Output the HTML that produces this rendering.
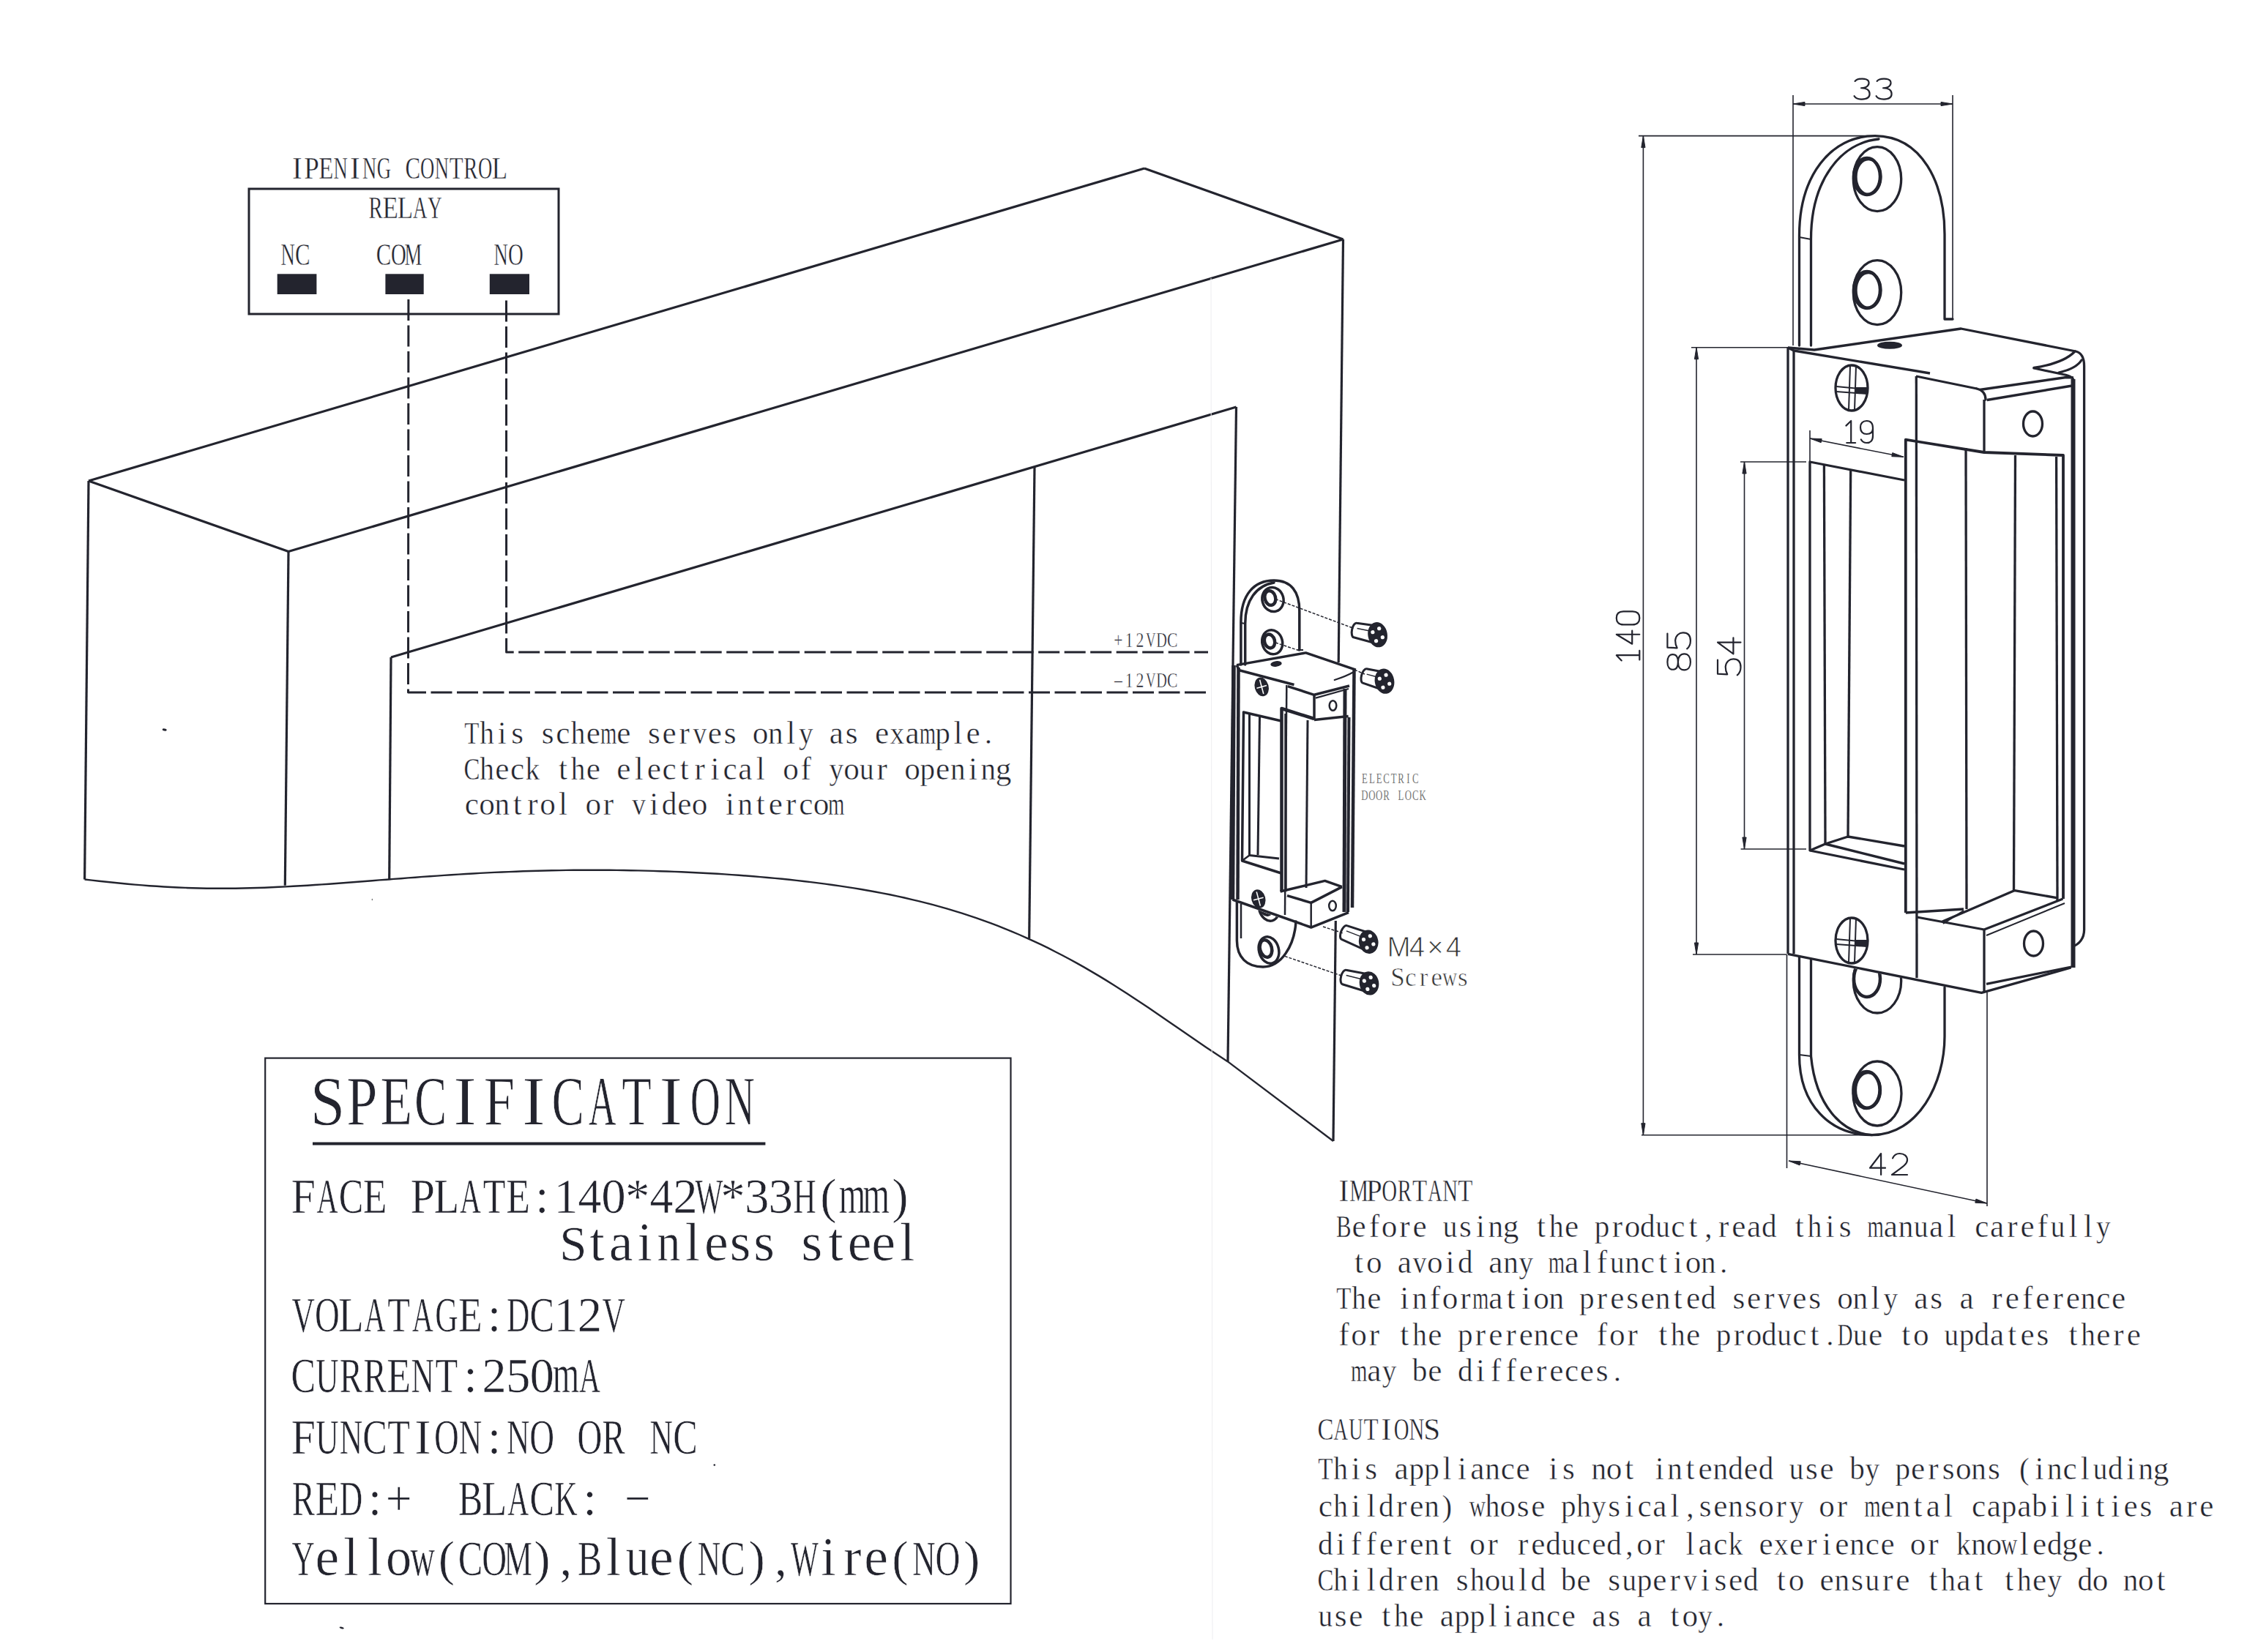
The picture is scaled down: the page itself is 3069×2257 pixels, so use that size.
<!DOCTYPE html>
<html><head><meta charset="utf-8"><title>Electric door lock</title>
<style>
html,body{margin:0;padding:0;background:#fff;}
body{width:3069px;height:2257px;overflow:hidden;font-family:"Liberation Sans",sans-serif;}
svg{display:block;}
</style></head><body>
<svg width="3069" height="2257" viewBox="0 0 3069 2257" stroke-linecap="butt">
<rect width="3069" height="2257" fill="#fff"/>
<line x1="121" y1="657" x2="1563" y2="230" stroke="#23242e" stroke-width="3.2"/>
<line x1="1563" y1="230" x2="1834.5" y2="327" stroke="#23242e" stroke-width="3.2"/>
<line x1="121" y1="657" x2="394" y2="753.5" stroke="#23242e" stroke-width="3.2"/>
<line x1="394" y1="753.5" x2="1834.5" y2="327" stroke="#23242e" stroke-width="3.2"/>
<line x1="121" y1="657" x2="115.6" y2="1201.4" stroke="#23242e" stroke-width="3.2"/>
<line x1="394" y1="753.5" x2="389.3" y2="1209.8" stroke="#23242e" stroke-width="3.2"/>
<line x1="534" y1="898" x2="1688.5" y2="556" stroke="#23242e" stroke-width="3.2"/>
<line x1="534" y1="898" x2="531.7" y2="1202.3" stroke="#23242e" stroke-width="3.2"/>
<line x1="1688.5" y1="556" x2="1677" y2="1450.4" stroke="#23242e" stroke-width="3.2"/>
<line x1="1834.5" y1="327" x2="1828.2" y2="905" stroke="#23242e" stroke-width="3.2"/>
<line x1="1824.3" y1="1258" x2="1821" y2="1559" stroke="#23242e" stroke-width="3.2"/>
<line x1="1413" y1="638" x2="1405.7" y2="1282" stroke="#23242e" stroke-width="3.2"/>
<polyline points="115.6,1201.5 125.4,1202.6 135.2,1203.7 145.1,1204.8 154.9,1205.8 164.7,1206.8 174.5,1207.7 184.3,1208.6 194.2,1209.4 204,1210.2 213.8,1210.8 223.6,1211.5 233.4,1212 243.3,1212.5 253.1,1212.9 262.9,1213.2 272.7,1213.5 282.5,1213.7 292.4,1213.8 302.2,1213.8 312,1213.8 321.8,1213.7 331.6,1213.5 341.5,1213.3 351.3,1213 361.1,1212.7 370.9,1212.3 380.7,1211.8 390.6,1211.4 400.4,1210.8 410.2,1210.3 420,1209.7 429.8,1209 439.7,1208.4 449.5,1207.7 459.3,1207 469.1,1206.2 478.9,1205.5 488.8,1204.7 498.6,1204 508.4,1203.2 518.2,1202.4 528,1201.7 537.9,1200.9 547.7,1200.2 557.5,1199.4 567.3,1198.7 577.1,1197.9 587,1197.2 596.8,1196.6 606.6,1195.9 616.4,1195.2 626.2,1194.6 636.1,1194 645.9,1193.5 655.7,1192.9 665.5,1192.4 675.3,1191.9 685.2,1191.5 695,1191.1 704.8,1190.7 714.6,1190.3 724.4,1190 734.3,1189.7 744.1,1189.5 753.9,1189.3 763.7,1189.1 773.5,1188.9 783.4,1188.8 793.2,1188.7 803,1188.7 812.8,1188.7 822.6,1188.7 832.5,1188.8 842.3,1188.9 852.1,1189 861.9,1189.2 871.7,1189.4 881.6,1189.6 891.4,1189.9 901.2,1190.2 911,1190.5 920.9,1190.9 930.7,1191.3 940.5,1191.7 950.3,1192.2 960.1,1192.7 970,1193.3 979.8,1193.8 989.6,1194.4 999.4,1195.1 1009.2,1195.8 1019.1,1196.5 1028.9,1197.3 1038.7,1198.1 1048.5,1199 1058.3,1199.9 1068.2,1200.8 1078,1201.8 1087.8,1202.9 1097.6,1204 1107.4,1205.1 1117.3,1206.4 1127.1,1207.6 1136.9,1209 1146.7,1210.4 1156.5,1211.9 1166.4,1213.4 1176.2,1215 1186,1216.7 1195.8,1218.5 1205.6,1220.4 1215.5,1222.3 1225.3,1224.4 1235.1,1226.5 1244.9,1228.8 1254.7,1231.1 1264.6,1233.6 1274.4,1236.2 1284.2,1238.8 1294,1241.6 1303.8,1244.6 1313.7,1247.6 1323.5,1250.8 1333.3,1254.1 1343.1,1257.6 1352.9,1261.2 1362.8,1264.9 1372.6,1268.8 1382.4,1272.8 1392.2,1277 1402,1281.3 1411.9,1285.8 1421.7,1290.4 1431.5,1295.2 1441.3,1300.2 1451.1,1305.2 1461,1310.5 1470.8,1315.9 1480.6,1321.4 1490.4,1327.1 1500.2,1332.9 1510.1,1338.9 1519.9,1345 1529.7,1351.2 1539.5,1357.5 1549.3,1363.9 1559.2,1370.4 1569,1377 1578.8,1383.7 1588.6,1390.4 1598.4,1397.2 1608.3,1404 1618.1,1410.8 1627.9,1417.6 1637.7,1424.3 1647.5,1431 1657.4,1437.6 1667.2,1444.1 1677,1450.5" fill="none" stroke="#23242e" stroke-width="2.4" stroke-linejoin="round"/>
<line x1="1677" y1="1450.4" x2="1821" y2="1559" stroke="#23242e" stroke-width="2.4"/>
<line x1="1654" y1="380" x2="1656" y2="2240" stroke="#ededf0" stroke-width="1.0"/>
<ellipse cx="224.7" cy="997" rx="3" ry="1.6" fill="#23242e" stroke="#23242e" stroke-width="0" transform="rotate(10 224.7 997)"/>
<ellipse cx="466.7" cy="2224" rx="3.2" ry="1.2" fill="#23242e" stroke="#23242e" stroke-width="0" transform="rotate(15 466.7 2224)"/>
<ellipse cx="975.8" cy="2001.5" rx="1.3" ry="1.3" fill="#23242e" stroke="#23242e" stroke-width="0"/>
<ellipse cx="508.4" cy="1229" rx="0.8" ry="1.2" fill="#777" stroke="#23242e" stroke-width="0"/>
<rect x="340" y="258" width="423" height="171" fill="none" stroke="#23242e" stroke-width="3"/>
<rect x="378.7" y="374.3" width="53.7" height="27.7" fill="#23242e" stroke="#23242e" stroke-width="0"/>
<rect x="526.4" y="374.3" width="52.3" height="27.7" fill="#23242e" stroke="#23242e" stroke-width="0"/>
<rect x="668.8" y="374.3" width="54.2" height="27.7" fill="#23242e" stroke="#23242e" stroke-width="0"/>
<polyline points="557.9,409 557.5,946 1651,946" fill="none" stroke="#23242e" stroke-width="3" stroke-linejoin="round" stroke-dasharray="29 6.5"/>
<polyline points="691.5,410.6 691.6,891 1650,891" fill="none" stroke="#23242e" stroke-width="3" stroke-linejoin="round" stroke-dasharray="29 6.5"/>
<path d="M1694.9,908 L1694.9,850 C1694.9,812 1713,793 1740,793 C1763,793 1775,808 1774.8,835 L1774.8,888" fill="none" stroke="#23242e" stroke-width="3.5" stroke-linejoin="round" stroke-linecap="round"/>
<path d="M1700.7,908 L1700.7,852 C1700.7,820 1716,800 1740,796" fill="none" stroke="#23242e" stroke-width="3.5" stroke-linejoin="round" stroke-linecap="round"/>
<line x1="1694.9" y1="851" x2="1700.7" y2="852" stroke="#23242e" stroke-width="2"/>
<ellipse cx="1738.5" cy="819" rx="14.5" ry="16.7" fill="none" stroke="#23242e" stroke-width="3.5" transform="rotate(-15 1738.5 819)"/>
<ellipse cx="1734.8" cy="817" rx="7.3" ry="10" fill="none" stroke="#23242e" stroke-width="4.5" transform="rotate(-15 1734.8 817)"/>
<ellipse cx="1737.7" cy="877.3" rx="13.8" ry="16.7" fill="none" stroke="#23242e" stroke-width="3.5" transform="rotate(-15 1737.7 877.3)"/>
<ellipse cx="1734" cy="876" rx="7" ry="9.5" fill="none" stroke="#23242e" stroke-width="4.5" transform="rotate(-15 1734 876)"/>
<line x1="1772" y1="888" x2="1780" y2="888" stroke="#23242e" stroke-width="2"/>
<line x1="1742" y1="818.5" x2="1849" y2="858.5" stroke="#23242e" stroke-width="1.5" stroke-dasharray="4 2"/>
<line x1="1742" y1="878" x2="1775" y2="889" stroke="#23242e" stroke-width="1.5" stroke-dasharray="4 2"/>
<line x1="1850" y1="915" x2="1864" y2="921" stroke="#23242e" stroke-width="1.5" stroke-dasharray="4 2"/>
<line x1="1807" y1="1266" x2="1834" y2="1274.8" stroke="#23242e" stroke-width="1.5" stroke-dasharray="4 2"/>
<line x1="1754.8" y1="1306.4" x2="1834" y2="1333.6" stroke="#23242e" stroke-width="1.5" stroke-dasharray="4 2"/>
<g transform="translate(1851 861) rotate(11.5)"><path d="M0,-10 L31.2,-12 M0,10 L31.2,12 M0,-10 A4.5,10 0 0 0 0,10" fill="none" stroke="#23242e" stroke-width="3"/><line x1="2" y1="-3" x2="27.2" y2="-3" stroke="#23242e" stroke-width="1.5"/></g>
<ellipse cx="1881.6" cy="867.2" rx="12" ry="16" fill="#23242e" stroke="#23242e" stroke-width="2.5" transform="rotate(-10 1881.6 867.2)"/>
<g transform="translate(1881.6 867.2) rotate(-10)"><circle cx="6" cy="4.6" r="2.6" fill="#fff"/><circle cx="-3.5" cy="8" r="2.6" fill="#fff"/><circle cx="-6" cy="-4.6" r="2.6" fill="#fff"/><circle cx="3.5" cy="-8" r="2.6" fill="#fff"/></g>
<g transform="translate(1864 923.5) rotate(14.9)"><path d="M0,-10 L27.9,-12 M0,10 L27.9,12 M0,-10 A4.5,10 0 0 0 0,10" fill="none" stroke="#23242e" stroke-width="3"/><line x1="2" y1="-3" x2="23.9" y2="-3" stroke="#23242e" stroke-width="1.5"/></g>
<ellipse cx="1891" cy="930.7" rx="12" ry="16" fill="#23242e" stroke="#23242e" stroke-width="2.5" transform="rotate(-10 1891 930.7)"/>
<g transform="translate(1891 930.7) rotate(-10)"><circle cx="6" cy="4.6" r="2.6" fill="#fff"/><circle cx="-3.5" cy="8" r="2.6" fill="#fff"/><circle cx="-6" cy="-4.6" r="2.6" fill="#fff"/><circle cx="3.5" cy="-8" r="2.6" fill="#fff"/></g>
<g transform="translate(1836 1274) rotate(21.1)"><path d="M0,-10 L35.6,-12 M0,10 L35.6,12 M0,-10 A4.5,10 0 0 0 0,10" fill="none" stroke="#23242e" stroke-width="3"/><line x1="2" y1="-3" x2="31.6" y2="-3" stroke="#23242e" stroke-width="1.5"/></g>
<ellipse cx="1869.2" cy="1286.8" rx="12" ry="15" fill="#23242e" stroke="#23242e" stroke-width="2.5" transform="rotate(-10 1869.2 1286.8)"/>
<g transform="translate(1869.2 1286.8) rotate(-10)"><circle cx="6" cy="4.3" r="2.6" fill="#fff"/><circle cx="-3.5" cy="7.5" r="2.6" fill="#fff"/><circle cx="-6" cy="-4.4" r="2.6" fill="#fff"/><circle cx="3.5" cy="-7.5" r="2.6" fill="#fff"/></g>
<g transform="translate(1836 1335) rotate(13.9)"><path d="M0,-10 L35,-12 M0,10 L35,12 M0,-10 A4.5,10 0 0 0 0,10" fill="none" stroke="#23242e" stroke-width="3"/><line x1="2" y1="-3" x2="31" y2="-3" stroke="#23242e" stroke-width="1.5"/></g>
<ellipse cx="1870" cy="1343.4" rx="12" ry="15" fill="#23242e" stroke="#23242e" stroke-width="2.5" transform="rotate(-10 1870 1343.4)"/>
<g transform="translate(1870 1343.4) rotate(-10)"><circle cx="6" cy="4.3" r="2.6" fill="#fff"/><circle cx="-3.5" cy="7.5" r="2.6" fill="#fff"/><circle cx="-6" cy="-4.4" r="2.6" fill="#fff"/><circle cx="3.5" cy="-7.5" r="2.6" fill="#fff"/></g>
<polyline points="1689,908.6 1783.5,891.9 1851.8,915.1" fill="none" stroke="#23242e" stroke-width="3.5" stroke-linejoin="round"/>
<polyline points="1692.7,915.8 1767.5,935.5" fill="none" stroke="#23242e" stroke-width="3.5" stroke-linejoin="round"/>
<polyline points="1758.8,937.6 1795,949.3 1843,937" fill="none" stroke="#23242e" stroke-width="3.5" stroke-linejoin="round"/>
<polyline points="1797,953.6 1842,941" fill="none" stroke="#23242e" stroke-width="2.2" stroke-linejoin="round"/>
<path d="M1822.7,929 C1832,926 1842,922 1848.9,918" fill="none" stroke="#23242e" stroke-width="2.2" stroke-linejoin="round" stroke-linecap="round"/>
<line x1="1689" y1="908.6" x2="1692.7" y2="915.8" stroke="#23242e" stroke-width="3.5"/>
<line x1="1795" y1="949.3" x2="1795" y2="983.4" stroke="#23242e" stroke-width="3.5"/>
<polyline points="1795,983.4 1841.6,978.5" fill="none" stroke="#23242e" stroke-width="3.5" stroke-linejoin="round"/>
<ellipse cx="1820.5" cy="964" rx="4.8" ry="6.8" fill="none" stroke="#23242e" stroke-width="2.5"/>
<line x1="1685" y1="909" x2="1683.5" y2="1229" stroke="#23242e" stroke-width="5.5"/>
<line x1="1691.5" y1="912" x2="1690.5" y2="1229" stroke="#23242e" stroke-width="4.5"/>
<line x1="1849.5" y1="915" x2="1847" y2="1240" stroke="#23242e" stroke-width="4.5"/>
<line x1="1837" y1="941" x2="1836" y2="1246" stroke="#23242e" stroke-width="5"/>
<line x1="1757.3" y1="936" x2="1755" y2="1250" stroke="#23242e" stroke-width="2.5"/>
<polyline points="1750,985 1698.5,973 1696.5,1176 1750,1193" fill="none" stroke="#23242e" stroke-width="3.5" stroke-linejoin="round"/>
<polyline points="1706.5,976 1706.5,1168.5 1747,1173" fill="none" stroke="#23242e" stroke-width="3" stroke-linejoin="round"/>
<line x1="1720.5" y1="979" x2="1718" y2="1168" stroke="#23242e" stroke-width="3"/>
<line x1="1696.5" y1="1176" x2="1706.5" y2="1168.5" stroke="#23242e" stroke-width="2.5"/>
<polyline points="1750.5,1218 1750.5,968 1795,982" fill="none" stroke="#23242e" stroke-width="4.5" stroke-linejoin="round"/>
<line x1="1756" y1="975" x2="1756" y2="1218" stroke="#23242e" stroke-width="3.5"/>
<line x1="1786" y1="984" x2="1784" y2="1213" stroke="#23242e" stroke-width="3"/>
<line x1="1842.5" y1="980" x2="1841" y2="1246" stroke="#23242e" stroke-width="4"/>
<polyline points="1748.6,1218 1809.6,1203.4 1833,1211.6" fill="none" stroke="#23242e" stroke-width="3.5" stroke-linejoin="round"/>
<polyline points="1758,1223.6 1790.7,1233.4 1833,1211.6" fill="none" stroke="#23242e" stroke-width="3.5" stroke-linejoin="round"/>
<line x1="1790.7" y1="1233.4" x2="1790.7" y2="1267" stroke="#23242e" stroke-width="2.5"/>
<ellipse cx="1820" cy="1237.5" rx="4.8" ry="6.8" fill="none" stroke="#23242e" stroke-width="2.5"/>
<polyline points="1683.4,1229 1790.7,1267 1842,1246.5" fill="none" stroke="#23242e" stroke-width="3.5" stroke-linejoin="round"/>
<ellipse cx="1723.2" cy="938.4" rx="8.5" ry="12" fill="#23242e" stroke="#23242e" stroke-width="2" transform="rotate(-15 1723.2 938.4)"/>
<g transform="translate(1723.2 938.4) rotate(-15)"><line x1="-7" y1="0" x2="7" y2="0" stroke="#fff" stroke-width="1.6"/><line x1="0" y1="-10" x2="0" y2="10" stroke="#fff" stroke-width="1.6"/></g>
<ellipse cx="1718.8" cy="1228" rx="8.5" ry="12" fill="#23242e" stroke="#23242e" stroke-width="2" transform="rotate(-15 1718.8 1228)"/>
<g transform="translate(1718.8 1228) rotate(-15)"><line x1="-7" y1="0" x2="7" y2="0" stroke="#fff" stroke-width="1.6"/><line x1="0" y1="-10" x2="0" y2="10" stroke="#fff" stroke-width="1.6"/></g>
<ellipse cx="1743" cy="907" rx="7" ry="3" fill="#23242e" stroke="#23242e" stroke-width="1.5" transform="rotate(-8 1743 907)"/>
<path d="M1689.4,1232 L1689.4,1285 C1689.4,1308 1703,1321 1725,1321 C1750,1321 1768,1292 1770,1259" fill="none" stroke="#23242e" stroke-width="3.5" stroke-linejoin="round" stroke-linecap="round"/>
<line x1="1695" y1="1235" x2="1695" y2="1282" stroke="#23242e" stroke-width="2.5"/>
<clipPath id="cs"><polygon points="1683,1231 1791,1269 1791,1320 1683,1320"/></clipPath>
<g clip-path="url(#cs)">
<ellipse cx="1733" cy="1240" rx="13.5" ry="18.5" fill="none" stroke="#23242e" stroke-width="3.5" transform="rotate(-15 1733 1240)"/>
<ellipse cx="1729" cy="1238" rx="8" ry="12" fill="none" stroke="#23242e" stroke-width="4.5" transform="rotate(-15 1729 1238)"/>
</g>
<ellipse cx="1733" cy="1298" rx="13.5" ry="18.5" fill="none" stroke="#23242e" stroke-width="3.5" transform="rotate(-15 1733 1298)"/>
<ellipse cx="1729" cy="1296" rx="8" ry="12" fill="none" stroke="#23242e" stroke-width="4.5" transform="rotate(-15 1729 1296)"/>
<line x1="2449" y1="142" x2="2667" y2="142" stroke="#23242e" stroke-width="1.6"/>
<polygon points="2449,142 2465,139.4 2465,144.6" fill="#23242e" stroke="#23242e" stroke-width="1" stroke-linejoin="round"/>
<polygon points="2667,142 2651,144.6 2651,139.4" fill="#23242e" stroke="#23242e" stroke-width="1" stroke-linejoin="round"/>
<line x1="2449" y1="130" x2="2449" y2="472" stroke="#23242e" stroke-width="1.6"/>
<line x1="2667" y1="130" x2="2667" y2="436" stroke="#23242e" stroke-width="1.6"/>
<line x1="2244.4" y1="185.6" x2="2244.4" y2="1550.7" stroke="#23242e" stroke-width="1.6"/>
<polygon points="2244.4,185.6 2247,201.6 2241.8,201.6" fill="#23242e" stroke="#23242e" stroke-width="1" stroke-linejoin="round"/>
<polygon points="2244.4,1550.7 2241.8,1534.7 2247,1534.7" fill="#23242e" stroke="#23242e" stroke-width="1" stroke-linejoin="round"/>
<line x1="2238" y1="185.6" x2="2561" y2="185.6" stroke="#23242e" stroke-width="1.6"/>
<line x1="2242" y1="1550.7" x2="2557" y2="1550.7" stroke="#23242e" stroke-width="1.6"/>
<line x1="2317" y1="474.7" x2="2317" y2="1304" stroke="#23242e" stroke-width="1.6"/>
<polygon points="2317,474.7 2319.6,490.7 2314.4,490.7" fill="#23242e" stroke="#23242e" stroke-width="1" stroke-linejoin="round"/>
<polygon points="2317,1304 2314.4,1288 2319.6,1288" fill="#23242e" stroke="#23242e" stroke-width="1" stroke-linejoin="round"/>
<line x1="2310" y1="474.7" x2="2445" y2="474.7" stroke="#23242e" stroke-width="1.6"/>
<line x1="2312" y1="1304" x2="2440" y2="1304" stroke="#23242e" stroke-width="1.6"/>
<line x1="2382.5" y1="631" x2="2382.5" y2="1160" stroke="#23242e" stroke-width="1.6"/>
<polygon points="2382.5,631 2385.1,647 2379.9,647" fill="#23242e" stroke="#23242e" stroke-width="1" stroke-linejoin="round"/>
<polygon points="2382.5,1160 2379.9,1144 2385.1,1144" fill="#23242e" stroke="#23242e" stroke-width="1" stroke-linejoin="round"/>
<line x1="2377" y1="631" x2="2467" y2="631" stroke="#23242e" stroke-width="1.6"/>
<line x1="2377.6" y1="1160" x2="2467" y2="1160" stroke="#23242e" stroke-width="1.6"/>
<line x1="2472" y1="599" x2="2600" y2="624.3" stroke="#23242e" stroke-width="1.6"/>
<polygon points="2472,599 2488.2,599.6 2487.2,604.7" fill="#23242e" stroke="#23242e" stroke-width="1" stroke-linejoin="round"/>
<polygon points="2600,624.3 2583.8,623.7 2584.8,618.6" fill="#23242e" stroke="#23242e" stroke-width="1" stroke-linejoin="round"/>
<line x1="2472" y1="588" x2="2472" y2="631" stroke="#23242e" stroke-width="1.6"/>
<line x1="2443" y1="1586" x2="2714" y2="1644" stroke="#23242e" stroke-width="1.6"/>
<polygon points="2443,1586 2459.2,1586.8 2458.1,1591.9" fill="#23242e" stroke="#23242e" stroke-width="1" stroke-linejoin="round"/>
<polygon points="2714,1644 2697.8,1643.2 2698.9,1638.1" fill="#23242e" stroke="#23242e" stroke-width="1" stroke-linejoin="round"/>
<line x1="2440.5" y1="1304" x2="2440.5" y2="1596" stroke="#23242e" stroke-width="1.6"/>
<line x1="2714" y1="1356" x2="2714" y2="1648" stroke="#23242e" stroke-width="1.6"/>
<g transform="translate(2532.6 106.6)"><path transform="translate(0 0) scale(21 29)" d="M0.05,0.15 C0.2,0.0 0.8,0.0 0.92,0.14 C1.02,0.3 0.85,0.47 0.45,0.47 C0.85,0.47 1,0.6 1,0.75 C1,0.95 0.8,1 0.5,1 C0.25,1 0.08,0.95 0,0.85" fill="none" stroke="#23242e" stroke-width="2.2" vector-effect="non-scaling-stroke" stroke-linejoin="round" stroke-linecap="round"/><path transform="translate(30 0) scale(21 29)" d="M0.05,0.15 C0.2,0.0 0.8,0.0 0.92,0.14 C1.02,0.3 0.85,0.47 0.45,0.47 C0.85,0.47 1,0.6 1,0.75 C1,0.95 0.8,1 0.5,1 C0.25,1 0.08,0.95 0,0.85" fill="none" stroke="#23242e" stroke-width="2.2" vector-effect="non-scaling-stroke" stroke-linejoin="round" stroke-linecap="round"/></g>
<g transform="translate(2518 575)"><path transform="translate(0 0) scale(17 30)" d="M0.2,0.22 L0.6,0 L0.6,1 M0.25,1 L0.95,1" fill="none" stroke="#23242e" stroke-width="2.2" vector-effect="non-scaling-stroke" stroke-linejoin="round" stroke-linecap="round"/><path transform="translate(23 0) scale(17 30)" d="M1,0.33 C1,0.52 0.8,0.6 0.5,0.6 C0.2,0.6 0,0.5 0,0.3 C0,0.1 0.2,0 0.5,0 C0.8,0 1,0.1 1,0.33 L1,0.68 C1,0.9 0.8,1 0.5,1 C0.3,1 0.15,0.95 0.05,0.85" fill="none" stroke="#23242e" stroke-width="2.2" vector-effect="non-scaling-stroke" stroke-linejoin="round" stroke-linecap="round"/></g>
<g transform="translate(2554 1576)"><path transform="translate(0 0) scale(21 29)" d="M0.72,1 L0.72,0 L0,0.68 L1,0.68" fill="none" stroke="#23242e" stroke-width="2.2" vector-effect="non-scaling-stroke" stroke-linejoin="round" stroke-linecap="round"/><path transform="translate(30 0) scale(21 29)" d="M0.05,0.22 C0.15,0.05 0.35,0 0.5,0 C0.8,0 1,0.12 1,0.3 C1,0.5 0.7,0.62 0,1 L1,1" fill="none" stroke="#23242e" stroke-width="2.2" vector-effect="non-scaling-stroke" stroke-linejoin="round" stroke-linecap="round"/></g>
<g transform="translate(2207.8 906) rotate(-90)"><path transform="translate(0 0) scale(18 31.5)" d="M0.2,0.22 L0.6,0 L0.6,1 M0.25,1 L0.95,1" fill="none" stroke="#23242e" stroke-width="2.2" vector-effect="non-scaling-stroke" stroke-linejoin="round" stroke-linecap="round"/><path transform="translate(26.3 0) scale(18 31.5)" d="M0.72,1 L0.72,0 L0,0.68 L1,0.68" fill="none" stroke="#23242e" stroke-width="2.2" vector-effect="non-scaling-stroke" stroke-linejoin="round" stroke-linecap="round"/><path transform="translate(52.6 0) scale(18 31.5)" d="M0,0.3 C0,0.1 0.2,0 0.5,0 C0.8,0 1,0.1 1,0.3 L1,0.7 C1,0.9 0.8,1 0.5,1 C0.2,1 0,0.9 0,0.7 Z" fill="none" stroke="#23242e" stroke-width="2.2" vector-effect="non-scaling-stroke" stroke-linejoin="round" stroke-linecap="round"/></g>
<g transform="translate(2277.4 915.4) rotate(-90)"><path transform="translate(0 0) scale(22 31.5)" d="M0.5,0.46 C0.15,0.46 0.03,0.36 0.03,0.23 C0.03,0.08 0.22,0 0.5,0 C0.78,0 0.97,0.08 0.97,0.23 C0.97,0.36 0.85,0.46 0.5,0.46 C0.15,0.46 0,0.58 0,0.73 C0,0.9 0.2,1 0.5,1 C0.8,1 1,0.9 1,0.73 C1,0.58 0.85,0.46 0.5,0.46 Z" fill="none" stroke="#23242e" stroke-width="2.2" vector-effect="non-scaling-stroke" stroke-linejoin="round" stroke-linecap="round"/><path transform="translate(29 0) scale(22 31.5)" d="M0.95,0 L0.08,0 L0.05,0.42 C0.2,0.36 0.35,0.34 0.52,0.34 C0.85,0.36 1,0.52 1,0.68 C1,0.9 0.8,1 0.5,1 C0.3,1 0.12,0.95 0,0.85" fill="none" stroke="#23242e" stroke-width="2.2" vector-effect="non-scaling-stroke" stroke-linejoin="round" stroke-linecap="round"/></g>
<g transform="translate(2346 922.4) rotate(-90)"><path transform="translate(0 0) scale(22 31.5)" d="M0.95,0 L0.08,0 L0.05,0.42 C0.2,0.36 0.35,0.34 0.52,0.34 C0.85,0.36 1,0.52 1,0.68 C1,0.9 0.8,1 0.5,1 C0.3,1 0.12,0.95 0,0.85" fill="none" stroke="#23242e" stroke-width="2.2" vector-effect="non-scaling-stroke" stroke-linejoin="round" stroke-linecap="round"/><path transform="translate(29 0) scale(22 31.5)" d="M0.72,1 L0.72,0 L0,0.68 L1,0.68" fill="none" stroke="#23242e" stroke-width="2.2" vector-effect="non-scaling-stroke" stroke-linejoin="round" stroke-linecap="round"/></g>
<path d="M2457.5,472 L2457.5,322 C2457.5,240 2500,186 2561,185.6 C2625,186 2656,250 2656,320 L2656,436 L2667,436" fill="none" stroke="#23242e" stroke-width="3.3" stroke-linejoin="round" stroke-linecap="round"/>
<path d="M2473.5,472 L2473.5,327 C2473.5,245 2515,195 2566,190" fill="none" stroke="#23242e" stroke-width="3.3" stroke-linejoin="round" stroke-linecap="round"/>
<line x1="2457.5" y1="324" x2="2473.5" y2="327" stroke="#23242e" stroke-width="2"/>
<ellipse cx="2564" cy="244.6" rx="32.7" ry="44" fill="none" stroke="#23242e" stroke-width="3.3"/>
<ellipse cx="2550" cy="241" rx="18" ry="25" fill="none" stroke="#23242e" stroke-width="4.5"/>
<ellipse cx="2552" cy="241.5" rx="17" ry="24" fill="none" stroke="#23242e" stroke-width="3.3"/>
<ellipse cx="2564" cy="399.6" rx="32.7" ry="44" fill="none" stroke="#23242e" stroke-width="3.3"/>
<ellipse cx="2550" cy="396" rx="18" ry="25" fill="none" stroke="#23242e" stroke-width="4.5"/>
<ellipse cx="2552" cy="396.5" rx="17" ry="24" fill="none" stroke="#23242e" stroke-width="3.3"/>
<path d="M2457.5,1307.6 L2457.5,1441 C2457.5,1510 2500,1550.7 2556.8,1550.7 C2620,1550.7 2656,1480 2656,1416 L2656,1349" fill="none" stroke="#23242e" stroke-width="3.3" stroke-linejoin="round" stroke-linecap="round"/>
<line x1="2473.5" y1="1310" x2="2473.5" y2="1443" stroke="#23242e" stroke-width="3.3"/>
<path d="M2473.5,1443 C2480,1510 2515,1548 2556.8,1550.7" fill="none" stroke="#23242e" stroke-width="3.3" stroke-linejoin="round" stroke-linecap="round"/>
<line x1="2457.5" y1="1441" x2="2473.5" y2="1443" stroke="#23242e" stroke-width="2"/>
<clipPath id="cb"><polygon points="2440,1305 2708,1358 2708,1500 2440,1500"/></clipPath>
<g clip-path="url(#cb)">
<ellipse cx="2564" cy="1340" rx="32.7" ry="44" fill="none" stroke="#23242e" stroke-width="3.3"/>
<ellipse cx="2550" cy="1337" rx="18" ry="25" fill="none" stroke="#23242e" stroke-width="4.5"/>
</g>
<ellipse cx="2564" cy="1494" rx="33" ry="44" fill="none" stroke="#23242e" stroke-width="3.3"/>
<ellipse cx="2549.5" cy="1489" rx="18" ry="25" fill="none" stroke="#23242e" stroke-width="4.5"/>
<ellipse cx="2551.5" cy="1489.5" rx="17" ry="24" fill="none" stroke="#23242e" stroke-width="3.3"/>
<polyline points="2442,475 2478,478 2678.4,449 2835,480" fill="none" stroke="#23242e" stroke-width="3.3" stroke-linejoin="round"/>
<path d="M2835,480 C2843,482 2846.6,488 2846.6,500 L2846.6,1270 C2846.6,1282 2840,1290 2831,1293" fill="none" stroke="#23242e" stroke-width="3.3" stroke-linejoin="round" stroke-linecap="round"/>
<polyline points="2450,479 2636,510" fill="none" stroke="#23242e" stroke-width="3.3" stroke-linejoin="round"/>
<polyline points="2617,514 2700,531" fill="none" stroke="#23242e" stroke-width="3.3" stroke-linejoin="round"/>
<path d="M2700,531 C2708,533 2712,538 2712,546" fill="none" stroke="#23242e" stroke-width="3.3" stroke-linejoin="round" stroke-linecap="round"/>
<polyline points="2704,532.5 2822,515.5 2832,516" fill="none" stroke="#23242e" stroke-width="3.3" stroke-linejoin="round"/>
<polyline points="2713.8,546.5 2830,527" fill="none" stroke="#23242e" stroke-width="3.3" stroke-linejoin="round"/>
<path d="M2778,502.5 C2800,499 2822,492 2833,481" fill="none" stroke="#23242e" stroke-width="3.3" stroke-linejoin="round" stroke-linecap="round"/>
<path d="M2812,509 C2825,506 2838,500 2843,492" fill="none" stroke="#23242e" stroke-width="3.3" stroke-linejoin="round" stroke-linecap="round"/>
<path d="M2778,503 L2818,511.5 C2826,513 2832,515 2832,520" fill="none" stroke="#23242e" stroke-width="3.3" stroke-linejoin="round" stroke-linecap="round"/>
<line x1="2442" y1="475" x2="2450" y2="479" stroke="#23242e" stroke-width="3.3"/>
<ellipse cx="2581" cy="471.7" rx="16" ry="4" fill="#23242e" stroke="#23242e" stroke-width="2"/>
<line x1="2442" y1="475" x2="2442" y2="1303.3" stroke="#23242e" stroke-width="3.3"/>
<line x1="2450" y1="479" x2="2450" y2="1303.3" stroke="#23242e" stroke-width="3.3"/>
<line x1="2617.3" y1="514" x2="2618" y2="1336" stroke="#23242e" stroke-width="3.3"/>
<line x1="2710" y1="546" x2="2710" y2="618" stroke="#23242e" stroke-width="3.3"/>
<line x1="2831.5" y1="518" x2="2831.5" y2="1322" stroke="#23242e" stroke-width="6"/>
<polyline points="2601,656 2472,631 2472,1162 2601,1188" fill="none" stroke="#23242e" stroke-width="3.3" stroke-linejoin="round"/>
<line x1="2491.4" y1="635" x2="2493" y2="1153" stroke="#23242e" stroke-width="3.3"/>
<line x1="2527.7" y1="642" x2="2524" y2="1143" stroke="#23242e" stroke-width="3.3"/>
<polyline points="2472,1162 2493,1153 2524,1143 2601,1156" fill="none" stroke="#23242e" stroke-width="3.3" stroke-linejoin="round"/>
<polyline points="2493,1153 2601,1180" fill="none" stroke="#23242e" stroke-width="3.6" stroke-linejoin="round"/>
<polyline points="2602.8,1247 2602.8,600.6 2617.3,603 2710,618 2818,622 2818,1228" fill="none" stroke="#23242e" stroke-width="3.8" stroke-linejoin="round"/>
<line x1="2685" y1="612" x2="2686" y2="1242" stroke="#23242e" stroke-width="3.3"/>
<line x1="2752.5" y1="622" x2="2750.5" y2="1216" stroke="#23242e" stroke-width="3.3"/>
<line x1="2808.6" y1="624" x2="2810" y2="1230" stroke="#23242e" stroke-width="3.3"/>
<polyline points="2602.8,1247 2682,1242" fill="none" stroke="#23242e" stroke-width="3.3" stroke-linejoin="round"/>
<polyline points="2653,1259 2751.7,1216.6 2809,1226.6" fill="none" stroke="#23242e" stroke-width="3.3" stroke-linejoin="round"/>
<polyline points="2618,1253 2710,1270 2817.5,1228" fill="none" stroke="#23242e" stroke-width="3.3" stroke-linejoin="round"/>
<polyline points="2713,1278 2820,1234" fill="none" stroke="#23242e" stroke-width="2" stroke-linejoin="round"/>
<line x1="2654" y1="1262" x2="2682" y2="1244" stroke="#23242e" stroke-width="2"/>
<line x1="2710" y1="1270" x2="2710" y2="1356" stroke="#23242e" stroke-width="3.3"/>
<ellipse cx="2777.5" cy="1289" rx="13" ry="17" fill="none" stroke="#23242e" stroke-width="3.3"/>
<ellipse cx="2776.5" cy="579" rx="13" ry="17" fill="none" stroke="#23242e" stroke-width="3.3"/>
<polyline points="2442,1303.3 2706.4,1356.4 2828.6,1322" fill="none" stroke="#23242e" stroke-width="3.3" stroke-linejoin="round"/>
<polyline points="2713,1344.4 2829,1321" fill="none" stroke="#23242e" stroke-width="3.3" stroke-linejoin="round"/>
<ellipse cx="2529" cy="530" rx="22" ry="31" fill="none" stroke="#23242e" stroke-width="3.3"/>
<line x1="2508" y1="528" x2="2550" y2="532" stroke="#23242e" stroke-width="2"/>
<line x1="2508" y1="535" x2="2550" y2="538" stroke="#23242e" stroke-width="2"/>
<line x1="2527" y1="500" x2="2525" y2="560" stroke="#23242e" stroke-width="2"/>
<line x1="2535" y1="500" x2="2533" y2="560" stroke="#23242e" stroke-width="2"/>
<rect x="2533" y="529" width="17" height="8" fill="#23242e" stroke="#23242e" stroke-width="0"/>
<ellipse cx="2529" cy="1285" rx="22" ry="31" fill="none" stroke="#23242e" stroke-width="3.3"/>
<line x1="2508" y1="1283" x2="2550" y2="1287" stroke="#23242e" stroke-width="2"/>
<line x1="2508" y1="1290" x2="2550" y2="1293" stroke="#23242e" stroke-width="2"/>
<line x1="2527" y1="1255" x2="2525" y2="1315" stroke="#23242e" stroke-width="2"/>
<line x1="2535" y1="1255" x2="2533" y2="1315" stroke="#23242e" stroke-width="2"/>
<rect x="2533" y="1284" width="17" height="8" fill="#23242e" stroke="#23242e" stroke-width="0"/>
<g transform="translate(396 243.6)" font-family="'Liberation Serif'" font-size="41.2" font-weight="normal" fill="#23242e" text-anchor="middle" stroke="#fff" stroke-width="0.45"><text x="9.9 88.9" y="0" transform="scale(1.0 1)">II</text><text x="32.9" y="0" transform="scale(0.9 1)">P</text><text x="61.7" y="0" transform="scale(0.8 1)">E</text><text x="106.3 167.1 197.5 288.7 319 410.2" y="0" transform="scale(0.65 1)">NNGONO</text><text x="223.8 302.8" y="0" transform="scale(0.75 1)">CT</text><text x="352.7" y="0" transform="scale(0.7 1)">R</text><text x="336.9" y="0" transform="scale(0.85 1)">L</text></g>
<g transform="translate(503 297.8)" font-family="'Liberation Serif'" font-size="41.2" font-weight="normal" fill="#23242e" text-anchor="middle" stroke="#fff" stroke-width="0.45"><text x="14.4" y="0" transform="scale(0.7 1)">R</text><text x="35.6 59.4" y="0" transform="scale(0.85 1)">EL</text><text x="108.8 139.8" y="0" transform="scale(0.65 1)">AY</text></g>
<g transform="translate(383 361.7)" font-family="'Liberation Serif'" font-size="41.2" font-weight="normal" fill="#23242e" text-anchor="middle" stroke="#fff" stroke-width="0.45"><text x="15.5" y="0" transform="scale(0.65 1)">N</text><text x="40.4" y="0" transform="scale(0.75 1)">C</text></g>
<g transform="translate(514 361.7)" font-family="'Liberation Serif'" font-size="41.2" font-weight="normal" fill="#23242e" text-anchor="middle" stroke="#fff" stroke-width="0.45"><text x="13.5" y="0" transform="scale(0.75 1)">C</text><text x="43.3" y="0" transform="scale(0.7 1)">O</text><text x="77.7" y="0" transform="scale(0.65 1)">M</text></g>
<g transform="translate(674 361.7)" font-family="'Liberation Serif'" font-size="41.2" font-weight="normal" fill="#23242e" text-anchor="middle" stroke="#fff" stroke-width="0.45"><text x="15.5" y="0" transform="scale(0.65 1)">N</text><text x="43.3" y="0" transform="scale(0.7 1)">O</text></g>
<g transform="translate(634 1015.5)" font-family="'Liberation Serif'" font-size="41.2" font-weight="normal" fill="#23242e" text-anchor="middle" stroke="#fff" stroke-width="0.45"><text x="13" y="0" transform="scale(0.8 1)">T</text><text x="32.8 163.8 491.4 622.5" y="0" transform="scale(0.95 1.1)">hhyx</text><text x="49.4 69.2 108.7 128.5 168 207.5 247 266.8 286.5 326.1 345.8 385.4 424.9 484.2 503.9 543.5 583 642.3 662" y="0" transform="scale(1.05 1.1)">issceeseresolaseale</text><text x="281.6 904.1" y="0" transform="scale(0.7 1.1)">mm</text><text x="357.4" y="0" transform="scale(0.9 1.1)">v</text><text x="425.4 653.6" y="0" transform="scale(1.0 1.1)">np</text><text x="715.9" y="0" transform="scale(1.0 1)">.</text></g>
<g transform="translate(634 1064.7)" font-family="'Liberation Serif'" font-size="41.2" font-weight="normal" fill="#23242e" text-anchor="middle" stroke="#fff" stroke-width="0.45"><text x="13" y="0" transform="scale(0.8 1)">C</text><text x="32.8 98.3 163.8 535.1 578.8" y="0" transform="scale(0.95 1.1)">hkhyu</text><text x="49.4 69.2 128.5 168 207.5 227.3 247 266.8 286.5 306.3 326.1 345.8 365.6 385.4 424.9 444.6 503.9 543.5 583 622.5 662 701.5" y="0" transform="scale(1.05 1.1)">ecteelectricaloforoeig</text><text x="632.9 674.4 715.9" y="0" transform="scale(1.0 1.1)">pnn</text></g>
<g transform="translate(634 1113.3)" font-family="'Liberation Serif'" font-size="41.2" font-weight="normal" fill="#23242e" text-anchor="middle" stroke="#fff" stroke-width="0.45"><text x="9.9 29.6 69.2 88.9 108.7 128.5 168 187.7 247 286.5 306.3 345.8 385.4 405.1 424.9 444.6 464.4" y="0" transform="scale(1.05 1.1)">cotrolorieoiterco</text><text x="51.9 280.1 383.9" y="0" transform="scale(1.0 1.1)">ndn</text><text x="265.1" y="0" transform="scale(0.9 1.1)">v</text><text x="726.2" y="0" transform="scale(0.7 1.1)">m</text></g>
<g transform="translate(1520 884)" font-family="'Liberation Serif'" font-size="29" font-weight="normal" fill="#23242e" text-anchor="middle" stroke="#fff" stroke-width="0.45"><text x="9.9 29.6 49.3 108.5" y="0" transform="scale(0.75 1)">+12C</text><text x="79.7" y="0" transform="scale(0.65 1)">V</text><text x="95.1" y="0" transform="scale(0.7 1)">D</text></g>
<g transform="translate(1520 939)" font-family="'Liberation Serif'" font-size="29" font-weight="normal" fill="#23242e" text-anchor="middle" stroke="#fff" stroke-width="0.45"><text x="9.9 29.6 49.3 108.5" y="0" transform="scale(0.75 1)">–12C</text><text x="79.7" y="0" transform="scale(0.65 1)">V</text><text x="95.1" y="0" transform="scale(0.7 1)">D</text></g>
<g transform="translate(1859 1070)" font-family="'Liberation Serif'" font-size="16" font-weight="normal" fill="#777" text-anchor="middle"><text x="6.2 18.6 30.9 43.3 55.7 68.1 80.4 92.8" y="0" transform="scale(0.8 1.2)">ELECTRIC</text></g>
<g transform="translate(1859 1093)" font-family="'Liberation Serif'" font-size="16" font-weight="normal" fill="#777" text-anchor="middle"><text x="6.2 18.6 30.9 43.3 68.1 80.4 92.8 105.2" y="0" transform="scale(0.8 1.2)">DOORLOCK</text></g>
<g transform="translate(1898 1307)" font-family="'Liberation Sans'" font-size="38.5" font-weight="normal" fill="#333" text-anchor="middle" stroke="#fff" stroke-width="0.9"><text x="12.5 37.5 62.5 87.5" y="0" transform="scale(1.0 1)">M4×4</text></g>
<g transform="translate(1900 1347)" font-family="'Liberation Serif'" font-size="35" font-weight="normal" fill="#333" text-anchor="middle" stroke="#fff" stroke-width="0.6"><text x="8.9 26.7 44.5 62.3 97.9" y="0" transform="scale(1.0 1)">Scres</text><text x="100.1" y="0" transform="scale(0.8 1)">w</text></g>
<rect x="362.2" y="1445.6" width="1018.3" height="745.4" fill="none" stroke="#23242e" stroke-width="2.2"/>
<g transform="translate(424 1537)" font-family="'Liberation Serif'" font-size="95" font-weight="normal" fill="#23242e" text-anchor="middle" stroke="#fff" stroke-width="0.9"><text x="26.1" y="0" transform="scale(0.9 1)">S</text><text x="87.9 322.4" y="0" transform="scale(0.8 1)">PF</text><text x="156.3" y="0" transform="scale(0.75 1)">E</text><text x="234.5 502.5 636.5" y="0" transform="scale(0.7 1)">CCT</text><text x="211 304.8 492.4" y="0" transform="scale(1.0 1)">III</text><text x="724.8" y="0" transform="scale(0.55 1)">A</text><text x="898.9 977.1" y="0" transform="scale(0.6 1)">ON</text></g>
<line x1="427" y1="1562.4" x2="1045.4" y2="1562.4" stroke="#23242e" stroke-width="4"/>
<g transform="translate(398 1656.8)" font-family="'Liberation Serif'" font-size="67" font-weight="normal" fill="#23242e" text-anchor="middle" stroke="#fff" stroke-width="0.6"><text x="18.1 199.2" y="0" transform="scale(0.9 1)">FP</text><text x="81.5 407.5 950.8" y="0" transform="scale(0.6 1)">AAW</text><text x="108.7 369.5" y="0" transform="scale(0.75 1)">CT</text><text x="142.6 387.1" y="0" transform="scale(0.8 1)">EE</text><text x="249.3" y="0" transform="scale(0.85 1)">L</text><text x="342.3 374.9 440.1 472.7 537.9 603.1 635.7 668.3 733.5 831.3" y="0" transform="scale(1.0 1)">:10*2*33()</text><text x="428.9 531.9" y="0" transform="scale(0.95 1)">44</text><text x="1078.3" y="0" transform="scale(0.65 1)">H</text><text x="1094.4 1141" y="0" transform="scale(0.7 1.1)">mm</text></g>
<g transform="translate(408 1721.6)" font-family="'Liberation Serif'" font-size="67" font-weight="normal" fill="#23242e" text-anchor="middle" stroke="#fff" stroke-width="0.6"><text x="374.9" y="0" transform="scale(1.0 1)">S</text><text x="370.5 400.1 429.7 489 518.6 548.3 577.9 637.2 666.8 696.5 726.1 755.7" y="0" transform="scale(1.1 1.1)">tailesssteel</text><text x="531.9" y="0" transform="scale(0.95 1.1)">n</text></g>
<g transform="translate(398 1818.6)" font-family="'Liberation Serif'" font-size="67" font-weight="normal" fill="#23242e" text-anchor="middle" stroke="#fff" stroke-width="0.6"><text x="25.1 326 476.5 677.1" y="0" transform="scale(0.65 1)">VGDV</text><text x="69.9" y="0" transform="scale(0.7 1)">O</text><text x="95.9" y="0" transform="scale(0.85 1)">L</text><text x="190.2 298.8" y="0" transform="scale(0.6 1)">AA</text><text x="195.6 456.4" y="0" transform="scale(0.75 1)">TC</text><text x="305.6" y="0" transform="scale(0.8 1)">E</text><text x="277.1 374.9 407.5" y="0" transform="scale(1.0 1)">:12</text></g>
<g transform="translate(398 1901.6)" font-family="'Liberation Serif'" font-size="67" font-weight="normal" fill="#23242e" text-anchor="middle" stroke="#fff" stroke-width="0.6"><text x="21.7 282.5" y="0" transform="scale(0.75 1)">CT</text><text x="75.2 275.8" y="0" transform="scale(0.65 1)">UN</text><text x="116.4 163" y="0" transform="scale(0.7 1)">RR</text><text x="183.4" y="0" transform="scale(0.8 1)">E</text><text x="244.5 277.1 309.7 342.3" y="0" transform="scale(1.0 1)">:250</text><text x="535.6" y="0" transform="scale(0.7 1.1)">m</text><text x="679.2" y="0" transform="scale(0.6 1)">A</text></g>
<g transform="translate(398 1986)" font-family="'Liberation Serif'" font-size="67" font-weight="normal" fill="#23242e" text-anchor="middle" stroke="#fff" stroke-width="0.6"><text x="18.1" y="0" transform="scale(0.9 1)">F</text><text x="75.2 125.4 376.2 476.5 777.4" y="0" transform="scale(0.65 1)">UNNNN</text><text x="152.1 195.6 717.2" y="0" transform="scale(0.75 1)">CTC</text><text x="179.3 277.1" y="0" transform="scale(1.0 1)">I:</text><text x="302.7 489 582.1 628.7" y="0" transform="scale(0.7 1)">OOOR</text></g>
<g transform="translate(398 2070)" font-family="'Liberation Serif'" font-size="67" font-weight="normal" fill="#23242e" text-anchor="middle" stroke="#fff" stroke-width="0.6"><text x="23.3" y="0" transform="scale(0.7 1)">R</text><text x="61.1" y="0" transform="scale(0.8 1)">E</text><text x="125.4 576.8" y="0" transform="scale(0.65 1)">DK</text><text x="114.1 407.5" y="0" transform="scale(1.0 1)">::</text><text x="154.4" y="0" transform="scale(0.95 1)">+</text><text x="326 456.4" y="0" transform="scale(0.75 1)">BC</text><text x="326" y="0" transform="scale(0.85 1)">L</text><text x="516.2" y="0" transform="scale(0.6 1)">A</text></g>
<g transform="translate(398 2063)" font-family="'Liberation Serif'" font-size="67" font-weight="normal" fill="#23242e" text-anchor="middle" stroke="#fff" stroke-width="0.6"><text x="556.1" y="0" transform="scale(0.85 1)">–</text></g>
<g transform="translate(398 2152)" font-family="'Liberation Serif'" font-size="67" font-weight="normal" fill="#23242e" text-anchor="middle" stroke="#fff" stroke-width="0.6"><text x="25.1 476.5 877.7 1329.1" y="0" transform="scale(0.65 1)">YMNN</text><text x="44.5 74.1 103.7 400.1 459.4 666.8 696.5 726.1" y="0" transform="scale(1.1 1.1)">ellleire</text><text x="139.7" y="0" transform="scale(1.05 1.1)">o</text><text x="256.1" y="0" transform="scale(0.7 1.1)">w</text><text x="211.9 342.3 374.9 537.9 635.7 668.3 831.3 929.1" y="0" transform="scale(1.0 1)">(),(),()</text><text x="326 543.3 804.1" y="0" transform="scale(0.75 1)">CBC</text><text x="395.9 1280.7" y="0" transform="scale(0.7 1)">OO</text><text x="497.6" y="0" transform="scale(0.95 1.1)">u</text><text x="1168.2" y="0" transform="scale(0.6 1)">W</text></g>
<g transform="translate(1825 1640.7)" font-family="'Liberation Serif'" font-size="41.2" font-weight="normal" fill="#23242e" text-anchor="middle" stroke="#fff" stroke-width="0.45"><text x="10.4" y="0" transform="scale(1.0 1)">I</text><text x="44.5 103.8 133.4 222.3" y="0" transform="scale(0.7 1)">MORN</text><text x="54.6" y="0" transform="scale(0.95 1)">P</text><text x="142.7 220.5" y="0" transform="scale(0.8 1)">TT</text><text x="207.5" y="0" transform="scale(0.65 1)">A</text></g>
<g transform="translate(1825 1690)" font-family="'Liberation Serif'" font-size="41.2" font-weight="normal" fill="#23242e" text-anchor="middle" stroke="#fff" stroke-width="0.45"><text x="13.8" y="0" transform="scale(0.75 1)">B</text><text x="29.6 49.4 69.2 88.9 108.7 168 187.7 227.3 266.8 306.3 365.6 385.4 444.6 464.4 503.9 523.7 543.5 602.7 642.3 662 721.3 780.6 800.4 839.9 859.6 879.4 899.2 918.9 958.5 978.2" y="0" transform="scale(1.05 1.1)">eforesigteroctreatisaalcarefll</text><text x="163.8 316.7 469.6 688 840.9 1037.5 1103" y="0" transform="scale(0.95 1.1)">uhuhuuy</text><text x="217.9 363.1 425.4 591.4 778.1" y="0" transform="scale(1.0 1.1)">npddn</text><text x="508.4" y="0" transform="scale(1.0 1)">,</text><text x="1052.3" y="0" transform="scale(0.7 1.1)">m</text></g>
<g transform="translate(1825 1739)" font-family="'Liberation Serif'" font-size="41.2" font-weight="normal" fill="#23242e" text-anchor="middle" stroke="#fff" stroke-width="0.45"><text x="29.6 49.4 88.9 128.5 148.2 207.5 306.3 326.1 345.8 405.1 424.9 444.6 464.4" y="0" transform="scale(1.05 1.1)">toaoiaalfctio</text><text x="126.8" y="0" transform="scale(0.9 1.1)">v</text><text x="176.4 238.6 404.6 508.4" y="0" transform="scale(1.0 1.1)">dnnn</text><text x="273 404.1" y="0" transform="scale(0.95 1.1)">yu</text><text x="429.8" y="0" transform="scale(0.7 1.1)">m</text><text x="529.1" y="0" transform="scale(1.0 1)">.</text></g>
<g transform="translate(1825 1788)" font-family="'Liberation Serif'" font-size="41.2" font-weight="normal" fill="#23242e" text-anchor="middle" stroke="#fff" stroke-width="0.45"><text x="13" y="0" transform="scale(0.8 1)">T</text><text x="32.8 797.2" y="0" transform="scale(0.95 1.1)">hy</text><text x="49.4 88.9 128.5 148.2 168 207.5 227.3 247 266.8 345.8 365.6 385.4 405.1 444.6 464.4 523.7 543.5 563.2 602.7 622.5 662 701.5 760.8 780.6 820.1 859.6 879.4 899.2 918.9 938.7 958.5 998 1017.7" y="0" transform="scale(1.05 1.1)">eiforatioreseteseresolasareferece</text><text x="114.1 300.9 342.4 446.1 508.4 715.9 1027.1" y="0" transform="scale(1.0 1.1)">nnpndnn</text><text x="281.6" y="0" transform="scale(0.7 1.1)">m</text><text x="680.1" y="0" transform="scale(0.9 1.1)">v</text></g>
<g transform="translate(1825 1837.5)" font-family="'Liberation Serif'" font-size="41.2" font-weight="normal" fill="#23242e" text-anchor="middle" stroke="#fff" stroke-width="0.45"><text x="9.9 29.6 49.4 88.9 128.5 187.7 207.5 227.3 247 286.5 306.3 345.8 365.6 385.4 424.9 464.4 523.7 543.5 602.7 622.5 701.5 741.1 760.8 859.6 879.4 899.2 918.9 958.5 998 1017.7 1037.5" y="0" transform="scale(1.05 1.1)">forterereceforteroctetoatestere</text><text x="120.1 491.4 644.3 753.6 884.6 1081.2" y="0" transform="scale(0.95 1.1)">hhuuuh</text><text x="176.4 280.1 529.1 591.4 861.1 881.9" y="0" transform="scale(1.0 1.1)">pnpdpd</text><text x="674.4" y="0" transform="scale(1.0 1)">.</text><text x="993" y="0" transform="scale(0.7 1)">D</text></g>
<g transform="translate(1825 1886.6)" font-family="'Liberation Serif'" font-size="41.2" font-weight="normal" fill="#23242e" text-anchor="middle" stroke="#fff" stroke-width="0.45"><text x="44.5" y="0" transform="scale(0.7 1.1)">m</text><text x="49.4 128.5 187.7 207.5 227.3 247 266.8 286.5 306.3 326.1 345.8" y="0" transform="scale(1.05 1.1)">aeiffereces</text><text x="76.4" y="0" transform="scale(0.95 1.1)">y</text><text x="114.1 176.4" y="0" transform="scale(1.0 1.1)">bd</text><text x="383.9" y="0" transform="scale(1.0 1)">.</text></g>
<g transform="translate(1800 1966.5)" font-family="'Liberation Serif'" font-size="41.2" font-weight="normal" fill="#23242e" text-anchor="middle" stroke="#fff" stroke-width="0.45"><text x="13 90.8" y="0" transform="scale(0.8 1)">CT</text><text x="47.9 79.8" y="0" transform="scale(0.65 1)">AU</text><text x="93.4 155.6" y="0" transform="scale(1.0 1)">IS</text><text x="163 192.7" y="0" transform="scale(0.7 1)">ON</text></g>
<g transform="translate(1800 2021)" font-family="'Liberation Serif'" font-size="41.2" font-weight="normal" fill="#23242e" text-anchor="middle" stroke="#fff" stroke-width="0.45"><text x="13" y="0" transform="scale(0.8 1)">T</text><text x="32.8 688 797.2 1124.9" y="0" transform="scale(0.95 1.1)">huyu</text><text x="49.4 69.2 108.7 168 187.7 207.5 247 266.8 306.3 326.1 385.4 405.1 444.6 484.2 503.9 563.2 642.3 662 780.6 800.4 820.1 839.9 879.4 938.7 978.2 998 1057.3 1096.8" y="0" transform="scale(1.05 1.1)">isaliaceisotiteeseersosiclig</text><text x="134.9 155.6 238.6 383.9 487.6 549.9 570.6 612.1 736.6 798.9 902.6 1006.4 1089.4 1130.9" y="0" transform="scale(1.0 1.1)">ppnnnnddbpnndn</text><text x="964.9" y="0" transform="scale(1.0 1)">(</text></g>
<g transform="translate(1800 2071.7)" font-family="'Liberation Serif'" font-size="41.2" font-weight="normal" fill="#23242e" text-anchor="middle" stroke="#fff" stroke-width="0.45"><text x="9.9 49.4 69.2 108.7 128.5 247 266.8 286.5 385.4 405.1 424.9 444.6 464.4 503.9 523.7 563.2 583 602.7 662 681.8 741.1 780.6 800.4 820.1 859.6 879.4 918.9 958.5 978.2 998 1017.7 1037.5 1057.3 1077 1116.5 1136.3 1156.1" y="0" transform="scale(1.05 1.1)">cilreosesicalsesororetalcaailitiesare</text><text x="32.8 251.2 382.2 404.1 688" y="0" transform="scale(0.95 1.1)">hhhyy</text><text x="93.4 155.6 342.4 570.6 798.9 944.1 985.6" y="0" transform="scale(1.0 1.1)">dnpnnpb</text><text x="176.4 508.4" y="0" transform="scale(1.0 1)">),</text><text x="290.5" y="0" transform="scale(0.75 1.1)">w</text><text x="1082" y="0" transform="scale(0.7 1.1)">m</text></g>
<g transform="translate(1800 2123.8)" font-family="'Liberation Serif'" font-size="41.2" font-weight="normal" fill="#23242e" text-anchor="middle" stroke="#fff" stroke-width="0.45"><text x="10.4 155.6 321.6 404.6 736.6 902.6 1006.4" y="0" transform="scale(1.0 1.1)">dnddnnd</text><text x="29.6 49.4 69.2 88.9 108.7 128.5 168 207.5 227.3 266.8 286.5 345.8 365.6 424.9 444.6 484.2 503.9 523.7 583 622.5 642.3 662 681.8 721.3 741.1 780.6 800.4 879.4 918.9 938.7 978.2 998" y="0" transform="scale(1.05 1.1)">ifferetorreceorlaceerieceorolege</text><text x="360.4 600.7 666.2 928.3" y="0" transform="scale(0.95 1.1)">ukxk</text><text x="425.4 1068.6" y="0" transform="scale(1.0 1)">,.</text><text x="1258.8" y="0" transform="scale(0.75 1.1)">w</text></g>
<g transform="translate(1800 2173)" font-family="'Liberation Serif'" font-size="41.2" font-weight="normal" fill="#23242e" text-anchor="middle" stroke="#fff" stroke-width="0.45"><text x="13" y="0" transform="scale(0.8 1)">C</text><text x="32.8 229.3 273 447.8 797.2 906.4 1015.7 1059.3" y="0" transform="scale(0.95 1.1)">hhuuuhhy</text><text x="49.4 69.2 108.7 128.5 187.7 227.3 266.8 345.8 385.4 444.6 464.4 503.9 523.7 543.5 602.7 622.5 662 701.5 741.1 760.8 800.4 839.9 859.6 899.2 938.7 1017.7 1077 1096.8" y="0" transform="scale(1.05 1.1)">ilresoleserisetoesretatteoot</text><text x="93.4 155.6 300.9 342.4 446.1 591.4 715.9 1047.9 1110.1" y="0" transform="scale(1.0 1.1)">dndbpdndn</text><text x="564.9" y="0" transform="scale(0.9 1.1)">v</text></g>
<g transform="translate(1800 2222)" font-family="'Liberation Serif'" font-size="41.2" font-weight="normal" fill="#23242e" text-anchor="middle" stroke="#fff" stroke-width="0.45"><text x="10.9 120.1 557" y="0" transform="scale(0.95 1.1)">uhy</text><text x="29.6 49.4 88.9 128.5 168 227.3 247 266.8 306.3 326.1 365.6 385.4 424.9 464.4 484.2" y="0" transform="scale(1.05 1.1)">setealiaceasato</text><text x="197.1 217.9 300.9" y="0" transform="scale(1.0 1.1)">ppn</text><text x="549.9" y="0" transform="scale(1.0 1)">.</text></g>
</svg>
</body></html>
